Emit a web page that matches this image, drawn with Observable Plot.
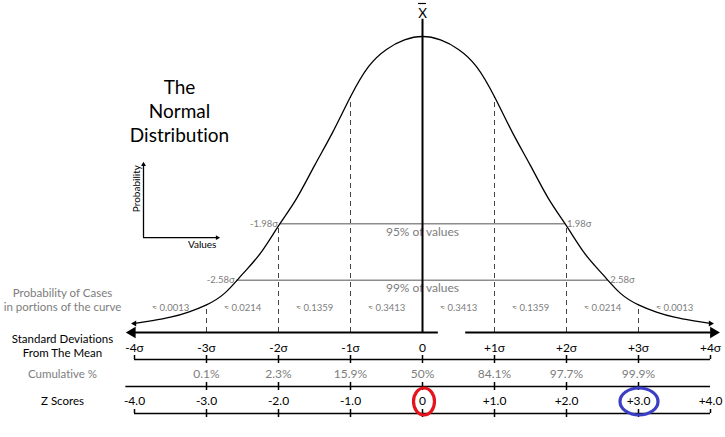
<!DOCTYPE html>
<html>
<head>
<meta charset="utf-8">
<script src="https://cdn.jsdelivr.net/npm/d3@7"></script>
<script src="https://cdn.jsdelivr.net/npm/@observablehq/plot@0.6"></script>
<style>
  html, body { margin: 0; padding: 0; background: #fff; }
  svg, svg text { font-variant-ligatures: none; font-feature-settings: "liga" 0, "dlig" 0; }
</style>
</head>
<body>
<div id="chart"></div>
<script>
// ---------- DATA ----------
const zGrid = [-4, -3.75, -3.5, -3.25, -3, -2.75, -2.5, -2.25, -2, -1.75, -1.5, -1.25, -1, -0.75, -0.5, -0.25,
               0, 0.25, 0.5, 0.75, 1, 1.25, 1.5, 1.75, 2, 2.25, 2.5, 2.75, 3, 3.25, 3.5, 3.75, 4];
// curve height as % of the peak
const curveHeight = [0, 1, 2.2, 4, 6.5, 10.5, 17.2, 24.5, 34, 43.5, 55, 66.5, 79, 89.5, 95.5, 98.8,
                     100, 98.8, 95.5, 89.5, 79, 66.5, 55, 43.5, 34, 24.5, 17.2, 10.5, 6.5, 4, 2.2, 1, 0];
const dashedZ = [-3, -2, -1, 1, 2, 3];
const sigmaTicks = [-4, -3, -2, -1, 0, 1, 2, 3, 4];
const sigmaLabels = ["-4σ", "-3σ", "-2σ", "-1σ", "0", "+1σ", "+2σ", "+3σ", "+4σ"];
const cumulativeTicks = [-3, -2, -1, 0, 1, 2, 3];
const cumulativeLabels = ["0.1%", "2.3%", "15.9%", "50%", "84.1%", "97.7%", "99.9%"];
const zScoreLabels = ["-4.0", "-3.0", "-2.0", "-1.0", "0", "+1.0", "+2.0", "+3.0", "+4.0"];
const segmentMids = [-3.5, -2.5, -1.5, -0.5, 0.5, 1.5, 2.5, 3.5];
const segmentProbs = ["≈ 0.0013", "≈ 0.0214", "≈ 0.1359", "≈ 0.3413", "≈ 0.3413", "≈ 0.1359", "≈ 0.0214", "≈ 0.0013"];
const intervalZ = [1.98, 2.58];
const intervalLabels = ["95% of values", "99% of values"];
const titleLines = ["The", "Normal", "Distribution"];
const circledZ = [0, 3];

// ---------- LAYOUT (y in % of peak units, x in σ units) ----------
const L = {
  baseY: -3.14, axisLeftEnd: -4.08, gapL: 0.22, gapR: 0.6, axisRightEnd: 4.09,
  sigmaLabelY: -8.5, sigmaLineY: -12.54, capTop: -11.15, tickBot: -13.94,
  cumLabelY: -17.7, cumLineY: -21.95, cumTickTop: -20.56, cumTickBot: -23.34,
  zLabelY: -27.0, zLineY: -31.36, zCapTop: -29.97, zTickBot: -32.75,
  probY: 5.57, leftX: -5.0, topY: 106,
  titleX: -3.375, titleY: [82.2, 73.6, 65.2],
  insetX: -3.875, insetTop: 55.4, insetBottom: 29.9, insetRight: -2.85
};

const hAt = z => {
  const a = Math.abs(z);
  for (let i = 16; i < zGrid.length - 1; i++) {
    if (a >= zGrid[i] && a <= zGrid[i + 1]) {
      const t = (a - zGrid[i]) / (zGrid[i + 1] - zGrid[i]);
      return curveHeight[i] + t * (curveHeight[i + 1] - curveHeight[i]);
    }
  }
  return 0;
};

const curveData = zGrid.map((z, i) => ({z, h: curveHeight[i]}));
const sigmaData = sigmaTicks.map((z, i) => ({z, label: sigmaLabels[i]}));
const cumData = cumulativeTicks.map((z, i) => ({z, label: cumulativeLabels[i]}));
const zData = sigmaTicks.map((z, i) => ({z, label: zScoreLabels[i]}));
const probData = segmentMids.map((z, i) => ({z, label: segmentProbs[i]}));
const intervals = intervalZ.map((z, i) => ({z, y: hAt(z), label: intervalLabels[i]}));
const interior = sigmaTicks.filter(z => Math.abs(z) < 4);
const ends = [-4, 4];
const gray = "#7d7d7d";

const plot = Plot.plot({
  width: 725, height: 437, margin: 0,
  x: {domain: [-4, 4], range: [134, 710], axis: null},
  y: {domain: [0, 100], range: [323, 36], axis: null},
  style: {fontFamily: "Lato, sans-serif", background: "#fff", overflow: "visible"},
  marks: [
    // dashed sigma lines
    Plot.ruleX(dashedZ, {x: d => d, y1: L.baseY, y2: d => hAt(d), stroke: "#444", strokeWidth: 1, strokeDasharray: "5,4"}),
    // interval lines
    Plot.ruleY(intervals, {y: "y", x1: d => -d.z, x2: d => d.z, stroke: "#8c8c8c", strokeWidth: 1.6}),
    Plot.text(intervals, {x: d => -d.z, y: "y", text: d => `-${d.z}σ`, textAnchor: "end", dx: -2, fontSize: 9.5, fill: gray}),
    Plot.text(intervals, {x: d => d.z, y: "y", text: d => `${d.z}σ`, textAnchor: "start", dx: 2, fontSize: 9.5, fill: gray}),
    Plot.text(intervals, {x: 0, y: "y", text: "label", dy: 8, fontSize: 12, fill: gray}),
    // center line
    Plot.ruleX([0], {y1: L.baseY, y2: L.topY, stroke: "#000", strokeWidth: 2}),
    Plot.text(["X"], {x: 0, y: 107.8, text: d => d, fontSize: 13.5, fill: "#000"}),
    Plot.ruleY([111.5], {x1: -0.055, x2: 0.055, stroke: "#000", strokeWidth: 1.2}),
    // curve
    Plot.line(curveData, {x: "z", y: "h", curve: "natural", stroke: "#000", strokeWidth: 1.3}),
    Plot.dot([{z: -4}], {x: "z", y: 0, symbol: "triangle", r: 2.2, rotate: -90, fill: "#000", stroke: null}),
    Plot.dot([{z: 4}], {x: "z", y: 0, symbol: "triangle", r: 2.2, rotate: 90, fill: "#000", stroke: null}),
    // main baseline with arrows
    Plot.ruleY([L.baseY], {x1: L.axisLeftEnd + 0.08, x2: L.gapL, stroke: "#000", strokeWidth: 2}),
    Plot.ruleY([L.baseY], {x1: L.gapR, x2: L.axisRightEnd - 0.08, stroke: "#000", strokeWidth: 2}),
    Plot.dot([L.axisLeftEnd + 0.05], {x: d => d, y: L.baseY, symbol: "triangle", r: 4.2, rotate: -90, fill: "#000", stroke: null}),
    Plot.dot([L.axisRightEnd - 0.05], {x: d => d, y: L.baseY, symbol: "triangle", r: 4.2, rotate: 90, fill: "#000", stroke: null}),
    // probability of cases
    Plot.text(probData, {x: "z", y: L.probY, text: "label", fontSize: 9.5, fill: gray}),
    // sigma row
    Plot.text(sigmaData, {x: "z", y: L.sigmaLabelY, text: "label", fontSize: 12, fill: "#000"}),
    Plot.ruleY([L.sigmaLineY], {x1: -4, x2: 4, stroke: "#000", strokeWidth: 1.5}),
    Plot.ruleX(ends, {x: d => d, y1: L.sigmaLineY, y2: L.capTop, stroke: "#000", strokeWidth: 1.5}),
    Plot.ruleX(interior, {x: d => d, y1: L.tickBot, y2: L.capTop, stroke: "#000", strokeWidth: 1.5}),
    // cumulative row
    Plot.text(cumData, {x: "z", y: L.cumLabelY, text: "label", fontSize: 12, fill: gray}),
    Plot.ruleY([L.cumLineY], {x1: -4.12, x2: 4, stroke: "#000", strokeWidth: 1.5}),
    Plot.ruleX(interior, {x: d => d, y1: L.cumTickBot, y2: L.cumTickTop, stroke: "#000", strokeWidth: 1.5}),
    // z score row
    Plot.text(zData, {x: "z", y: L.zLabelY, text: "label", fontSize: 12, fill: "#000"}),
    Plot.ruleY([L.zLineY], {x1: -4, x2: 4, stroke: "#000", strokeWidth: 1.5}),
    Plot.ruleX(ends, {x: d => d, y1: L.zLineY, y2: L.zCapTop, stroke: "#000", strokeWidth: 1.5}),
    Plot.ruleX(interior, {x: d => d, y1: L.zTickBot, y2: L.zCapTop, stroke: "#000", strokeWidth: 1.5}),
    // left labels
    Plot.text(["Probability of Cases", "in portions of the curve"], {x: L.leftX, y: [10.45, 5.57], text: d => d, fontSize: 11.5, fill: gray}),
    Plot.text(["Standard Deviations", "From The Mean"], {x: L.leftX, y: [-5.57, -10.3], text: d => d, fontSize: 11.5, fill: "#000"}),
    Plot.text(["Cumulative %"], {x: L.leftX, y: L.cumLabelY, text: d => d, fontSize: 11.5, fill: gray}),
    Plot.text(["Z Scores"], {x: L.leftX, y: L.zLabelY, text: d => d, fontSize: 11.5, fill: "#000"}),
    // title
    Plot.text(titleLines, {x: L.titleX, y: L.titleY, text: d => d, fontSize: 19, fill: "#000"}),
    // inset axes
    Plot.ruleX([L.insetX], {y1: L.insetBottom, y2: L.insetTop, stroke: "#000", strokeWidth: 1.3}),
    Plot.ruleY([L.insetBottom], {x1: L.insetX, x2: L.insetRight, stroke: "#000", strokeWidth: 1.3}),
    Plot.dot([0], {x: L.insetX, y: L.insetTop, symbol: "triangle", r: 1.8, fill: "#000", stroke: null}),
    Plot.dot([0], {x: L.insetRight, y: L.insetBottom, symbol: "triangle", r: 1.8, rotate: 90, fill: "#000", stroke: null}),
    Plot.text(["Probability"], {x: L.insetX, y: 47, dx: -7, text: d => d, rotate: -90, fontSize: 10, fill: "#000"}),
    Plot.text(["Values"], {x: -3.06, y: 27.5, text: d => d, fontSize: 10, fill: "#000"})
  ]
});

document.getElementById("chart").appendChild(plot);

// circled Z scores
const sx = plot.scale("x"), sy = plot.scale("y");
const circleStyle = [{stroke: "#e3141b", rx: 10.5}, {stroke: "#3b3fc4", rx: 19}];
circledZ.forEach((z, i) => {
  d3.select(plot).append("ellipse")
    .attr("cx", sx.apply(z) + (i === 0 ? 2 : 1))
    .attr("cy", sy.apply(L.zLabelY) + 1)
    .attr("rx", circleStyle[i].rx)
    .attr("ry", 13.5)
    .attr("fill", "none")
    .attr("stroke", circleStyle[i].stroke)
    .attr("stroke-width", 3.2);
});
</script>
</body>
</html>
